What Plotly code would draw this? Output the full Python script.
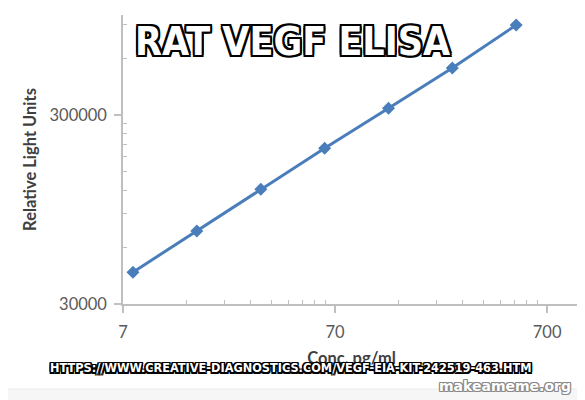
import plotly.graph_objects as go

# ---- data ----
conc_pg_ml = [7.8, 15.6, 31.25, 62.5, 125, 250, 500]
rlu = [44200, 73000, 121400, 200000, 326000, 532000, 897000]

x_tick_vals = [7, 70, 700]
x_tick_text = ["7", "70", "700"]
y_tick_vals = [30000, 300000]
y_tick_text = ["30000", "300000"]
x_minor_vals = [14, 21, 28, 35, 42, 49, 56, 63, 140, 210, 280, 350, 420, 490, 560, 630]
y_minor_vals = [60000, 90000, 120000, 150000, 180000, 210000, 240000, 270000, 600000, 900000]

title_text = "RAT VEGF ELISA"
caption_text = "HTTPS://WWW.CREATIVE-DIAGNOSTICS.COM/VEGF-EIA-KIT-242519-463.HTM"
watermark_text = "makeameme.org"

# the page body adds an 8px offset, so the figure is 8px smaller and shifted
OFF = 8
W, H = 585 - OFF, 400 - OFF
L, R, T = 123 - OFF, 5, 15 - OFF
B = H - (304 - OFF)
PW, PH = W - L - R, H - T - B


def px(xp):
    return (xp - OFF - L) / PW


def py(yp):
    return (H - B - (yp - OFF)) / PH


AXIS = "#bfbfbf"
TICKF = dict(family="Lato, Liberation Sans, sans-serif", size=16.5, color="#595959")
TITLEF = dict(family="Lato, Liberation Sans, sans-serif", size=16.5, color="#404040", weight="bold")
MEME = "Impact, DejaVu Sans Condensed, sans-serif"


def outline(w, c):
    parts = []
    for dx in (-w, 0, w):
        for dy in (-w, 0, w):
            if dx or dy:
                parts.append(f"{dx}px {dy}px 0 {c}")
    return ", ".join(parts)


fig = go.Figure()
fig.add_trace(go.Scatter(
    x=conc_pg_ml, y=rlu, mode="lines+markers",
    line=dict(color="#4a7ebb", width=3),
    marker=dict(symbol="diamond", size=10, color="#4a7ebb"),
    showlegend=False, hoverinfo="skip",
))

fig.update_layout(
    width=W, height=H,
    margin=dict(l=L, r=R, t=T, b=B, autoexpand=False),
    paper_bgcolor="white", plot_bgcolor="white",
    xaxis=dict(
        type="log", range=[0.845098, 3.0], automargin=False,
        showgrid=False, zeroline=False,
        showline=True, linecolor=AXIS, linewidth=1.5,
        tickmode="array", tickvals=x_tick_vals, ticktext=x_tick_text,
        ticks="outside", ticklen=7, tickcolor=AXIS, tickwidth=1.5,
        ticklabelstandoff=5,
        tickfont=TICKF,
        minor=dict(tickvals=x_minor_vals, ticks="inside", ticklen=4,
                   tickcolor=AXIS, tickwidth=1.2, showgrid=False),
        title=dict(text="Conc. pg/ml", font=TITLEF, standoff=12),
    ),
    yaxis=dict(
        type="log", range=[4.477121, 6.006], automargin=False,
        showgrid=False, zeroline=False,
        showline=True, linecolor=AXIS, linewidth=1.5,
        tickmode="array", tickvals=y_tick_vals, ticktext=y_tick_text,
        ticks="outside", ticklen=7, tickcolor=AXIS, tickwidth=1.5,
        ticklabelstandoff=4,
        tickfont=TICKF,
        minor=dict(tickvals=y_minor_vals, ticks="inside", ticklen=4,
                   tickcolor=AXIS, tickwidth=1.2, showgrid=False),
        title=dict(text="Relative Light Units", font=TITLEF, standoff=9),
    ),
    shapes=[
        dict(type="rect", xref="paper", yref="paper",
             x0=px(OFF), x1=px(600), y0=py(389), y1=py(410),
             fillcolor="#f6f6f6", line=dict(width=0), layer="below"),
        dict(type="line", xref="paper", yref="paper",
             x0=px(OFF), x1=px(600), y0=py(389), y1=py(389),
             line=dict(color="#ebebeb", width=1)),
    ],
    annotations=[
        dict(text=title_text, xref="paper", yref="paper",
             x=px(292), y=py(41), xanchor="center", yanchor="middle",
             showarrow=False,
             font=dict(family=MEME, size=39, color="white", weight="bold",
                       shadow=outline(2, "#000"))),
        dict(text=caption_text, xref="paper", yref="paper",
             x=px(291), y=py(367), xanchor="center", yanchor="middle",
             showarrow=False,
             font=dict(family=MEME, size=12.6, color="white", weight="bold",
                       shadow=outline(1.5, "#000"))),
        dict(text=watermark_text, xref="paper", yref="paper",
             x=px(505), y=py(386), xanchor="center", yanchor="middle",
             showarrow=False,
             font=dict(family="DejaVu Sans, sans-serif", size=14, color="white", weight="bold",
                       shadow=outline(1, "#8a8a8a"))),
    ],
)

fig.write_html("out.html")
